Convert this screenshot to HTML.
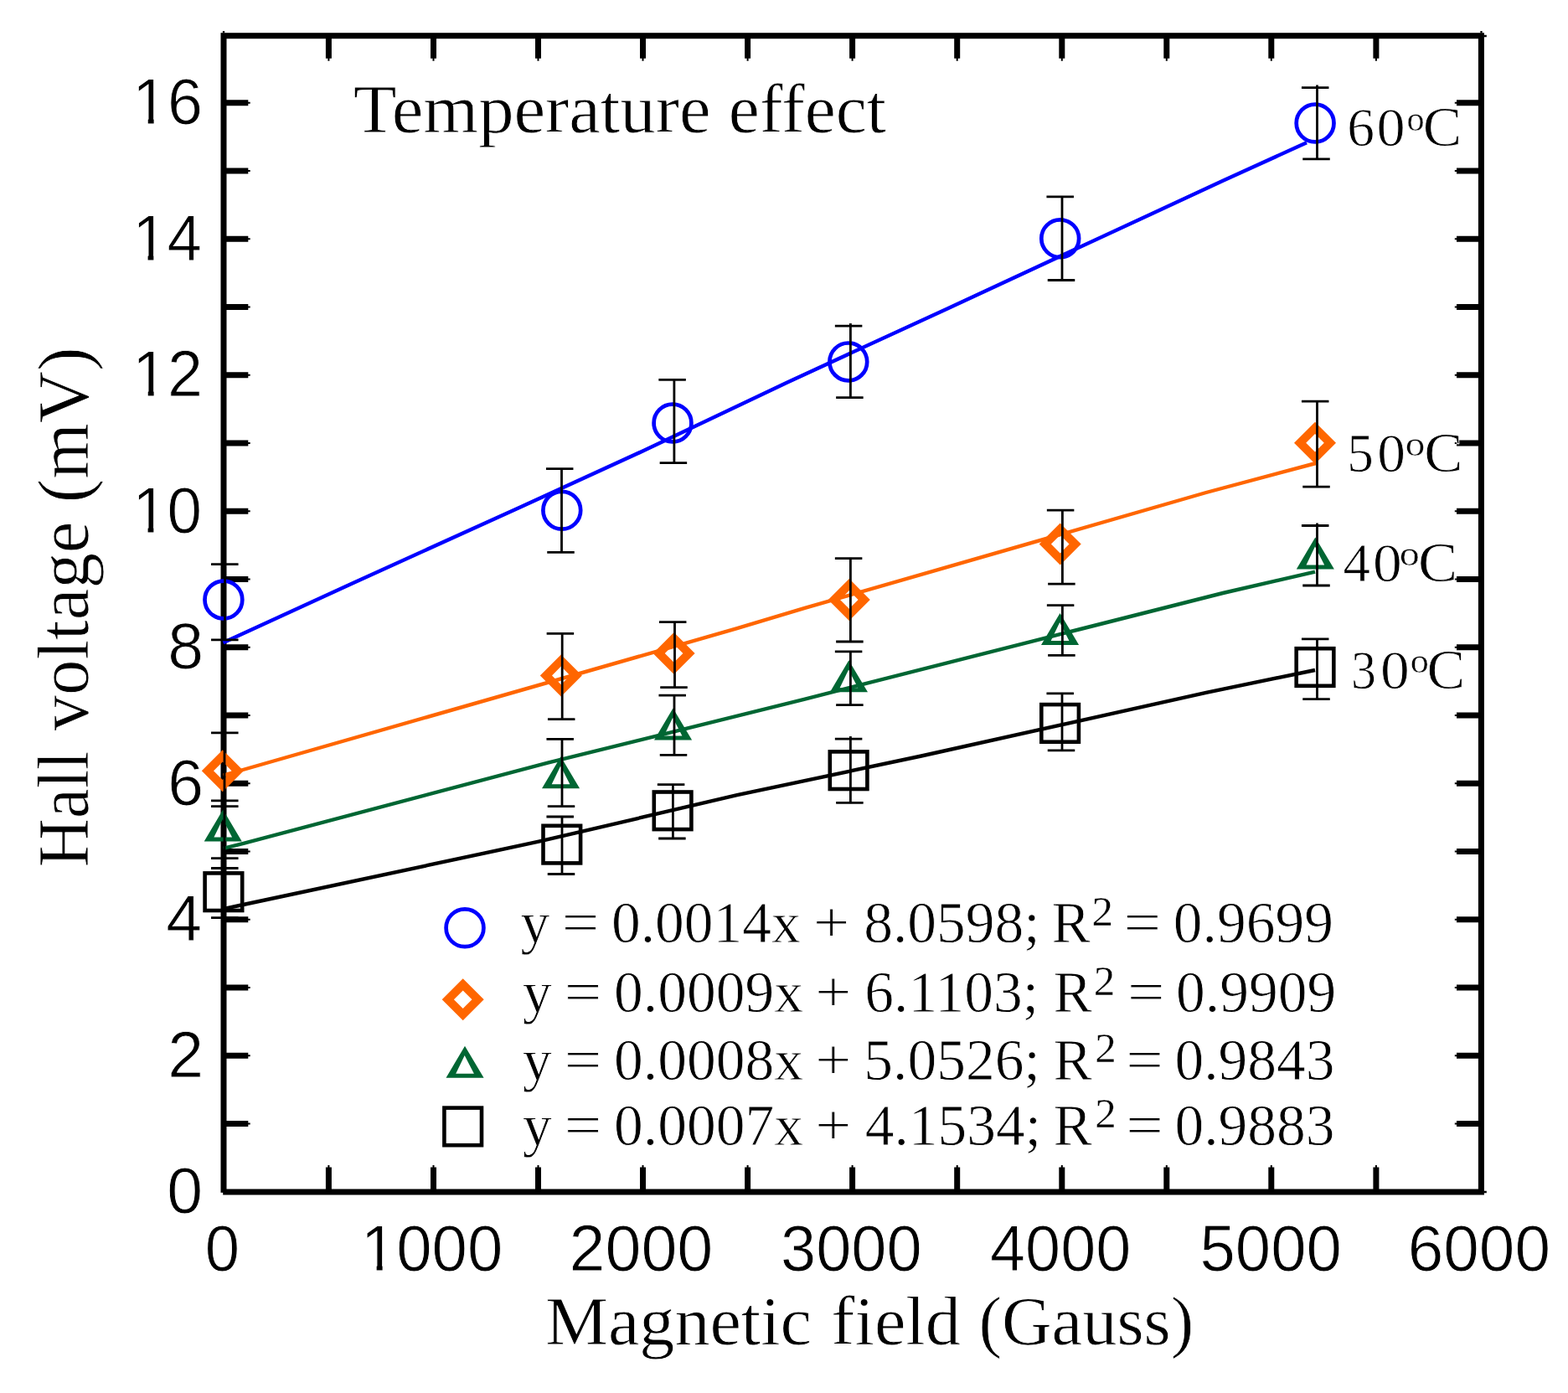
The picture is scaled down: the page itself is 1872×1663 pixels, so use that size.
<!DOCTYPE html><html><head><meta charset="utf-8"><title>Hall voltage vs magnetic field</title>
<style>html,body{margin:0;padding:0;background:#fff;width:1872px;height:1663px;overflow:hidden;}svg{display:block;}.sans{font-family:"Liberation Sans",Arial,sans-serif;}.serif{font-family:"Liberation Serif","Times New Roman",serif;font-variant-ligatures:none;}</style></head><body>
<svg width="1872" height="1663" viewBox="0 0 1872 1663">
<rect x="0" y="0" width="1872" height="1663" fill="#fff"/>
<g stroke="#000" fill="none">
<rect x="267" y="42.7" width="1501.4" height="1380.3" stroke-width="7"/>
<path d="M392.4 1420V1393.5 M392.4 46V69.7 M517.5 1420V1393.5 M517.5 46V69.7 M642.5 1420V1393.5 M642.5 46V69.7 M767.5 1420V1393.5 M767.5 46V69.7 M892.6 1420V1393.5 M892.6 46V69.7 M1017.6 1420V1393.5 M1017.6 46V69.7 M1142.7 1420V1393.5 M1142.7 46V69.7 M1267.8 1420V1393.5 M1267.8 46V69.7 M1392.8 1420V1393.5 M1392.8 46V69.7 M1517.8 1420V1393.5 M1517.8 46V69.7 M1642.9 1420V1393.5 M1642.9 46V69.7 M270 1341.6H296.3 M1765 1341.6H1739 M270 1260.3H296.3 M1765 1260.3H1739 M270 1179.1H296.3 M1765 1179.1H1739 M270 1097.8H296.3 M1765 1097.8H1739 M270 1016.6H296.3 M1765 1016.6H1739 M270 935.3H296.3 M1765 935.3H1739 M270 854.1H296.3 M1765 854.1H1739 M270 772.8H296.3 M1765 772.8H1739 M270 691.6H296.3 M1765 691.6H1739 M270 610.3H296.3 M1765 610.3H1739 M270 529.1H296.3 M1765 529.1H1739 M270 447.8H296.3 M1765 447.8H1739 M270 366.6H296.3 M1765 366.6H1739 M270 285.3H296.3 M1765 285.3H1739 M270 204.1H296.3 M1765 204.1H1739 M270 122.8H296.3 M1765 122.8H1739" stroke-width="7"/>
<path d="M392.4 1394V1391 M392.4 69V72.7 M517.5 1394V1391 M517.5 69V72.7 M642.5 1394V1391 M642.5 69V72.7 M767.5 1394V1391 M767.5 69V72.7 M892.6 1394V1391 M892.6 69V72.7 M1017.6 1394V1391 M1017.6 69V72.7 M1142.7 1394V1391 M1142.7 69V72.7 M1267.8 1394V1391 M1267.8 69V72.7 M1392.8 1394V1391 M1392.8 69V72.7 M1517.8 1394V1391 M1517.8 69V72.7 M1642.9 1394V1391 M1642.9 69V72.7 M296 1341.6H298.7 M1739.5 1341.6H1736.8 M296 1260.3H298.7 M1739.5 1260.3H1736.8 M296 1179.1H298.7 M1739.5 1179.1H1736.8 M296 1097.8H298.7 M1739.5 1097.8H1736.8 M296 1016.6H298.7 M1739.5 1016.6H1736.8 M296 935.3H298.7 M1739.5 935.3H1736.8 M296 854.1H298.7 M1739.5 854.1H1736.8 M296 772.8H298.7 M1739.5 772.8H1736.8 M296 691.6H298.7 M1739.5 691.6H1736.8 M296 610.3H298.7 M1739.5 610.3H1736.8 M296 529.1H298.7 M1739.5 529.1H1736.8 M296 447.8H298.7 M1739.5 447.8H1736.8 M296 366.6H298.7 M1739.5 366.6H1736.8 M296 285.3H298.7 M1739.5 285.3H1736.8 M296 204.1H298.7 M1739.5 204.1H1736.8 M296 122.8H298.7 M1739.5 122.8H1736.8" stroke-width="2"/>
<path d="M267 39.5V37 M1768.5 39.5V37 M1771.5 43H1774.8 M1771.5 1423H1774.8" stroke-width="2.3"/>
<rect x="263" y="1423.8" width="3.2" height="3.5" fill="#fff" stroke="none"/>
</g>
<g fill="none" stroke-width="4.4" stroke-linejoin="round">
<polyline points="266.5,767.2 420,696.7 620,605.9 770,537.3 940,456.4 1130,368.9 1460,215.8 1560,170.3" stroke="#0000ff"/>
<polyline points="266.5,925.6 290,919 880,750.2 960,726.2 1440,588 1571,553" stroke="#ff6600"/>
<polyline points="266.5,1012.9 290.7,1006.8 654,910.7 960,834.8 1290,751 1460,708 1570,682.6" stroke="#006633"/>
<polyline points="266.5,1085.2 292.8,1079.5 643.2,1004.7 880,949.2 1100,902.5 1440,826.8 1570,800" stroke="#000000"/>
</g>
<circle cx="266.9" cy="716" r="22.4" fill="none" stroke="#0000ff" stroke-width="4.7"/>
<circle cx="670.8" cy="609.3" r="22.4" fill="none" stroke="#0000ff" stroke-width="4.7"/>
<circle cx="803" cy="505" r="22.4" fill="none" stroke="#0000ff" stroke-width="4.7"/>
<circle cx="1012.8" cy="431.9" r="22.4" fill="none" stroke="#0000ff" stroke-width="4.7"/>
<circle cx="1265.7" cy="284.8" r="22.4" fill="none" stroke="#0000ff" stroke-width="4.7"/>
<circle cx="1570.1" cy="147" r="22.4" fill="none" stroke="#0000ff" stroke-width="4.7"/>
<path fill="#ff6600" fill-rule="evenodd" d="M265.8 895.2L290.8 920.2L265.8 945.2L240.8 920.2ZM265.8 909.4000000000001L276.6 920.2L265.8 931.0L255.0 920.2Z"/>
<path fill="#ff6600" fill-rule="evenodd" d="M669.8 781.4L694.8 806.4L669.8 831.4L644.8 806.4ZM669.8 795.6L680.5999999999999 806.4L669.8 817.1999999999999L659.0 806.4Z"/>
<path fill="#ff6600" fill-rule="evenodd" d="M804.6 755L829.6 780L804.6 805L779.6 780ZM804.6 769.2L815.4 780L804.6 790.8L793.8000000000001 780Z"/>
<path fill="#ff6600" fill-rule="evenodd" d="M1013.8 690.9L1038.8 715.9L1013.8 740.9L988.8 715.9ZM1013.8 705.1L1024.6 715.9L1013.8 726.6999999999999L1003.0 715.9Z"/>
<path fill="#ff6600" fill-rule="evenodd" d="M1265.7 624.6L1290.7 649.6L1265.7 674.6L1240.7 649.6ZM1265.7 638.8000000000001L1276.5 649.6L1265.7 660.4L1254.9 649.6Z"/>
<path fill="#ff6600" fill-rule="evenodd" d="M1570 503.79999999999995L1595 528.8L1570 553.8L1545 528.8ZM1570 518.0L1580.8 528.8L1570 539.5999999999999L1559.2 528.8Z"/>
<path fill="#006633" fill-rule="evenodd" d="M266.2 966.6L288.8 1004.6L243.7 1004.6ZM265.9 977.9L277.1 999.6L255.4 999.6Z"/>
<path fill="#006633" fill-rule="evenodd" d="M669.5 903.3L692.1 941.2L647.0 941.2ZM669.2 914.5L680.4 936.3L658.7 936.3Z"/>
<path fill="#006633" fill-rule="evenodd" d="M803.5 845.5L826.1 883.5L781.0 883.5ZM803.2 856.8L814.4 878.5L792.7 878.5Z"/>
<path fill="#006633" fill-rule="evenodd" d="M1013.4 788.3L1036.0 826.2L990.9 826.2ZM1013.1 799.5L1024.3 821.3L1002.6 821.3Z"/>
<path fill="#006633" fill-rule="evenodd" d="M1265.5 731.9L1288.1 769.9L1243.0 769.9ZM1265.2 743.1L1276.4 764.9L1254.7 764.9Z"/>
<path fill="#006633" fill-rule="evenodd" d="M1570.3 641.4L1592.9 679.4L1547.8 679.4ZM1570.0 652.6L1581.2 674.4L1559.5 674.4Z"/>
<rect x="244.6" y="1042.4" width="44.6" height="44.6" fill="none" stroke="#000000" stroke-width="4.6"/>
<rect x="648.5" y="985.8" width="44.6" height="44.6" fill="none" stroke="#000000" stroke-width="4.6"/>
<rect x="780.8" y="945.5" width="44.6" height="44.6" fill="none" stroke="#000000" stroke-width="4.6"/>
<rect x="990.8" y="897.4" width="44.6" height="44.6" fill="none" stroke="#000000" stroke-width="4.6"/>
<rect x="1243.3" y="841.1" width="44.6" height="44.6" fill="none" stroke="#000000" stroke-width="4.6"/>
<rect x="1547.7" y="774.2" width="44.6" height="44.6" fill="none" stroke="#000000" stroke-width="4.6"/>
<path d="M268.5 673.7V763.9 M252.05 673.7H284.55 M252.05 763.9H284.55 M670.5 559.7V659.4 M651.95 559.7H684.45 M653.25 659.4H685.75 M804.9 453.3V552.6 M786.35 453.3H818.85 M787.65 552.6H820.15 M1015.4 386.1V474.6 M996.85 389.1H1029.35 M998.15 474.6H1030.65 M1268 234.9V334.5 M1249.45 234.9H1281.95 M1250.75 334.5H1283.25 M1572.5 101.6V189.8 M1553.95 104.6H1586.45 M1555.25 189.8H1587.75 M268 874.8V955.9 M252.05 874.8H284.55 M252.05 955.9H284.55 M671.2 756.4V858.6 M652.65 756.4H685.15 M653.95 858.6H686.45 M805.5 742.6V820.7 M786.95 742.6H819.45 M788.25 820.7H820.75 M1015.4 666.7V766 M996.85 666.7H1029.35 M998.15 766H1030.65 M1268.4 609.2V697.1 M1249.85 609.2H1282.35 M1251.15 697.1H1283.65 M1572.5 479.1V581.2 M1553.95 479.1H1586.45 M1555.25 581.2H1587.75 M268 962.6V1024.6 M252.05 962.6H284.55 M252.05 1024.6H284.55 M671 882.4V962.7 M652.45 882.4H684.95 M653.75 962.7H686.25 M805 830.1V901.4 M786.45 830.1H818.95 M787.75 901.4H820.25 M1015.4 777.9V841.7 M996.85 777.9H1029.35 M998.15 841.7H1030.65 M1268.4 722.7V782.3 M1249.85 722.7H1282.35 M1251.15 782.3H1283.65 M1572.5 624.5V699 M1553.95 627.5H1586.45 M1555.25 699H1587.75 M267.5 1036.5V1095.7 M252.05 1036.5H284.55 M252.05 1095.7H284.55 M671 975V1043.5 M652.45 975H684.95 M653.75 1043.5H686.25 M803.4 936.6V1001 M784.85 936.6H817.35 M786.15 1001H818.65 M1015.4 879.1V958.3 M996.85 882.1H1029.35 M998.15 958.3H1030.65 M1268 827.9V895.8 M1249.45 827.9H1281.95 M1250.75 895.8H1283.25 M1572.5 762.9V834.6 M1553.95 762.9H1586.45 M1555.25 834.6H1587.75" stroke="#000" stroke-width="2.8" fill="none"/>
<circle cx="555" cy="1107.8" r="22.4" fill="none" stroke="#0000ff" stroke-width="4.7"/>
<path fill="#ff6600" fill-rule="evenodd" d="M552.7 1168.2L577.7 1193.2L552.7 1218.2L527.7 1193.2ZM552.7 1182.4L563.5 1193.2L552.7 1204.0L541.9000000000001 1193.2Z"/>
<path fill="#006633" fill-rule="evenodd" d="M555.0 1248.8L577.6 1286.7L532.5 1286.7ZM554.7 1260.0L565.9 1281.8L544.2 1281.8Z"/>
<rect x="530.4" y="1322.6" width="44.6" height="44.6" fill="none" stroke="#000000" stroke-width="4.6"/>
<g fill="#000" stroke="#fff">
<text class="serif" x="421.87" y="158" font-size="83.5" textLength="426.65" lengthAdjust="spacingAndGlyphs" stroke-width="0.8">Temperature</text>
<text class="serif" x="869.70" y="158" font-size="83.5" textLength="188.30" lengthAdjust="spacingAndGlyphs" stroke-width="0.8">effect</text>
<text class="serif" x="651.19" y="1604.7" font-size="83.5" textLength="317.66" lengthAdjust="spacingAndGlyphs" stroke-width="0.8">Magnetic</text>
<text class="serif" x="992.37" y="1604.7" font-size="83.5" textLength="154.66" lengthAdjust="spacingAndGlyphs" stroke-width="0.8">field</text>
<text class="serif" x="1168.45" y="1604.7" font-size="83.5" textLength="256.73" lengthAdjust="spacingAndGlyphs" stroke-width="0.8">(Gauss)</text>
<text class="serif" transform="translate(105.1 0) rotate(-90)" x="-1035.16" y="0" font-size="86.5" textLength="138.56" lengthAdjust="spacingAndGlyphs" stroke-width="0.8">Hall</text>
<text class="serif" transform="translate(105.1 0) rotate(-90)" x="-872.40" y="0" font-size="86.5" textLength="249.96" lengthAdjust="spacingAndGlyphs" stroke-width="0.8">voltage</text>
<text class="serif" transform="translate(105.1 0) rotate(-90)" x="-600.27" y="0" font-size="86.5" textLength="185.80" lengthAdjust="spacingAndGlyphs" stroke-width="0.8">(mV)</text>
<text class="serif" x="621.40" y="1125.4" font-size="69.5" stroke-width="0.8">y</text>
<text class="serif" x="670.69" y="1125.4" font-size="69.5" textLength="44.55" lengthAdjust="spacingAndGlyphs" stroke-width="0.8">=</text>
<text class="serif" x="729.90" y="1125.4" font-size="69.5" stroke-width="0.8">0.0014x</text>
<text class="serif" x="970.99" y="1125.4" font-size="69.5" textLength="43.24" lengthAdjust="spacingAndGlyphs" stroke-width="0.8">+</text>
<text class="serif" x="1031.20" y="1125.4" font-size="69.5" stroke-width="0.8">8.0598;</text>
<text class="serif" x="1255.50" y="1125.4" font-size="69.5" stroke-width="0.8">R</text>
<text class="serif" x="1303.60" y="1104.5" font-size="51" stroke-width="0.35">2</text>
<text class="serif" x="1341.59" y="1125.4" font-size="69.5" textLength="44.55" lengthAdjust="spacingAndGlyphs" stroke-width="0.8">=</text>
<text class="serif" x="1400.80" y="1125.4" font-size="69.5" stroke-width="0.8">0.9699</text>
<text class="serif" x="624.00" y="1208.2" font-size="69.5" stroke-width="0.8">y</text>
<text class="serif" x="673.89" y="1208.2" font-size="69.5" textLength="44.55" lengthAdjust="spacingAndGlyphs" stroke-width="0.8">=</text>
<text class="serif" x="733.10" y="1208.2" font-size="69.5" stroke-width="0.8">0.0009x</text>
<text class="serif" x="973.19" y="1208.2" font-size="69.5" textLength="43.24" lengthAdjust="spacingAndGlyphs" stroke-width="0.8">+</text>
<text class="serif" x="1032.30" y="1208.2" font-size="69.5" stroke-width="0.8">6.1103;</text>
<text class="serif" x="1257.60" y="1208.2" font-size="69.5" stroke-width="0.8">R</text>
<text class="serif" x="1305.70" y="1187.5" font-size="51" stroke-width="0.35">2</text>
<text class="serif" x="1345.99" y="1208.2" font-size="69.5" textLength="44.55" lengthAdjust="spacingAndGlyphs" stroke-width="0.8">=</text>
<text class="serif" x="1404.00" y="1208.2" font-size="69.5" stroke-width="0.8">0.9909</text>
<text class="serif" x="624.00" y="1289.2" font-size="69.5" stroke-width="0.8">y</text>
<text class="serif" x="673.89" y="1289.2" font-size="69.5" textLength="44.55" lengthAdjust="spacingAndGlyphs" stroke-width="0.8">=</text>
<text class="serif" x="733.10" y="1289.2" font-size="69.5" stroke-width="0.8">0.0008x</text>
<text class="serif" x="973.19" y="1289.2" font-size="69.5" textLength="43.24" lengthAdjust="spacingAndGlyphs" stroke-width="0.8">+</text>
<text class="serif" x="1031.30" y="1289.2" font-size="69.5" stroke-width="0.8">5.0526;</text>
<text class="serif" x="1257.60" y="1289.2" font-size="69.5" stroke-width="0.8">R</text>
<text class="serif" x="1307.30" y="1268.0" font-size="51" stroke-width="0.35">2</text>
<text class="serif" x="1344.39" y="1289.2" font-size="69.5" textLength="44.55" lengthAdjust="spacingAndGlyphs" stroke-width="0.8">=</text>
<text class="serif" x="1402.40" y="1289.2" font-size="69.5" stroke-width="0.8">0.9843</text>
<text class="serif" x="624.00" y="1367.2" font-size="69.5" stroke-width="0.8">y</text>
<text class="serif" x="673.89" y="1367.2" font-size="69.5" textLength="44.55" lengthAdjust="spacingAndGlyphs" stroke-width="0.8">=</text>
<text class="serif" x="733.10" y="1367.2" font-size="69.5" stroke-width="0.8">0.0007x</text>
<text class="serif" x="973.19" y="1367.2" font-size="69.5" textLength="43.24" lengthAdjust="spacingAndGlyphs" stroke-width="0.8">+</text>
<text class="serif" x="1032.70" y="1367.2" font-size="69.5" stroke-width="0.8">4.1534;</text>
<text class="serif" x="1257.60" y="1367.2" font-size="69.5" stroke-width="0.8">R</text>
<text class="serif" x="1307.30" y="1345.5" font-size="51" stroke-width="0.35">2</text>
<text class="serif" x="1344.39" y="1367.2" font-size="69.5" textLength="44.55" lengthAdjust="spacingAndGlyphs" stroke-width="0.8">=</text>
<text class="serif" x="1402.40" y="1367.2" font-size="69.5" stroke-width="0.8">0.9883</text>
<text class="serif" x="1608.22" y="173.9" font-size="66" textLength="32.76" lengthAdjust="spacingAndGlyphs" stroke-width="0.8">6</text>
<text class="serif" x="1643.60" y="173.9" font-size="66" textLength="34.10" lengthAdjust="spacingAndGlyphs" stroke-width="0.8">0</text>
<text class="serif" x="1679.64" y="155.5" font-size="39" textLength="21.08" lengthAdjust="spacingAndGlyphs" stroke-width="0.35">o</text>
<text class="serif" x="1698.89" y="173.9" font-size="67" textLength="46.35" lengthAdjust="spacingAndGlyphs" stroke-width="0.8">C</text>
<text class="serif" x="1608.17" y="563.3" font-size="66" textLength="31.60" lengthAdjust="spacingAndGlyphs" stroke-width="0.8">5</text>
<text class="serif" x="1644.23" y="563.3" font-size="66" textLength="33.73" lengthAdjust="spacingAndGlyphs" stroke-width="0.8">0</text>
<text class="serif" x="1677.69" y="544.0" font-size="39" textLength="23.52" lengthAdjust="spacingAndGlyphs" stroke-width="0.35">o</text>
<text class="serif" x="1700.31" y="563.3" font-size="67" textLength="46.11" lengthAdjust="spacingAndGlyphs" stroke-width="0.8">C</text>
<text class="serif" x="1603.42" y="693.7" font-size="66" textLength="32.47" lengthAdjust="spacingAndGlyphs" stroke-width="0.8">4</text>
<text class="serif" x="1638.94" y="693.7" font-size="66" textLength="34.71" lengthAdjust="spacingAndGlyphs" stroke-width="0.8">0</text>
<text class="serif" x="1670.84" y="674.8" font-size="39" textLength="24.01" lengthAdjust="spacingAndGlyphs" stroke-width="0.35">o</text>
<text class="serif" x="1693.04" y="693.7" font-size="67" textLength="47.06" lengthAdjust="spacingAndGlyphs" stroke-width="0.8">C</text>
<text class="serif" x="1612.88" y="821.5" font-size="66" textLength="29.94" lengthAdjust="spacingAndGlyphs" stroke-width="0.8">3</text>
<text class="serif" x="1648.14" y="821.5" font-size="66" textLength="34.71" lengthAdjust="spacingAndGlyphs" stroke-width="0.8">0</text>
<text class="serif" x="1683.84" y="803.0" font-size="39" textLength="22.06" lengthAdjust="spacingAndGlyphs" stroke-width="0.35">o</text>
<text class="serif" x="1703.54" y="821.5" font-size="67" textLength="45.64" lengthAdjust="spacingAndGlyphs" stroke-width="0.8">C</text>
<text class="sans" x="244.81" y="1517" font-size="77" textLength="41.32" lengthAdjust="spacingAndGlyphs" stroke-width="0.9">0</text>
<text class="sans" x="430.86" y="1517" font-size="77" textLength="169.50" lengthAdjust="spacingAndGlyphs" stroke-width="0.9">1000</text>
<text class="sans" x="679.49" y="1517" font-size="77" textLength="171.82" lengthAdjust="spacingAndGlyphs" stroke-width="0.9">2000</text>
<text class="sans" x="932.05" y="1517" font-size="77" textLength="168.60" lengthAdjust="spacingAndGlyphs" stroke-width="0.9">3000</text>
<text class="sans" x="1182.04" y="1517" font-size="77" textLength="168.20" lengthAdjust="spacingAndGlyphs" stroke-width="0.9">4000</text>
<text class="sans" x="1432.54" y="1517" font-size="77" textLength="169.22" lengthAdjust="spacingAndGlyphs" stroke-width="0.9">5000</text>
<text class="sans" x="1680.72" y="1517" font-size="77" textLength="170.25" lengthAdjust="spacingAndGlyphs" stroke-width="0.9">6000</text>
<text class="sans" x="199.30" y="1448.1" font-size="77" stroke-width="0.9">0</text>
<text class="sans" x="200.30" y="1285.6" font-size="77" stroke-width="0.9">2</text>
<text class="sans" x="198.30" y="1123.1" font-size="77" stroke-width="0.9">4</text>
<text class="sans" x="200.30" y="960.6" font-size="77" stroke-width="0.9">6</text>
<text class="sans" x="200.30" y="798.1" font-size="77" stroke-width="0.9">8</text>
<text class="sans" x="158.19" y="635.6" font-size="77" textLength="82.88" lengthAdjust="spacingAndGlyphs" stroke-width="0.9">10</text>
<text class="sans" x="158.12" y="473.1" font-size="77" textLength="83.97" lengthAdjust="spacingAndGlyphs" stroke-width="0.9">12</text>
<text class="sans" x="158.19" y="310.6" font-size="77" textLength="82.88" lengthAdjust="spacingAndGlyphs" stroke-width="0.9">14</text>
<text class="sans" x="158.12" y="148.1" font-size="77" textLength="83.97" lengthAdjust="spacingAndGlyphs" stroke-width="0.9">16</text>
</g>
<g fill="#fff"><rect x="435.20" y="1510.20" width="14.46" height="8"/><rect x="456.59" y="1510.20" width="14.46" height="8"/><rect x="162.40" y="628.80" width="14.18" height="8"/><rect x="183.35" y="628.80" width="14.18" height="8"/><rect x="162.40" y="466.30" width="14.34" height="8"/><rect x="183.61" y="466.30" width="14.34" height="8"/><rect x="162.40" y="303.80" width="14.18" height="8"/><rect x="183.35" y="303.80" width="14.18" height="8"/><rect x="162.40" y="141.30" width="14.34" height="8"/><rect x="183.61" y="141.30" width="14.34" height="8"/></g>
</svg></body></html>
